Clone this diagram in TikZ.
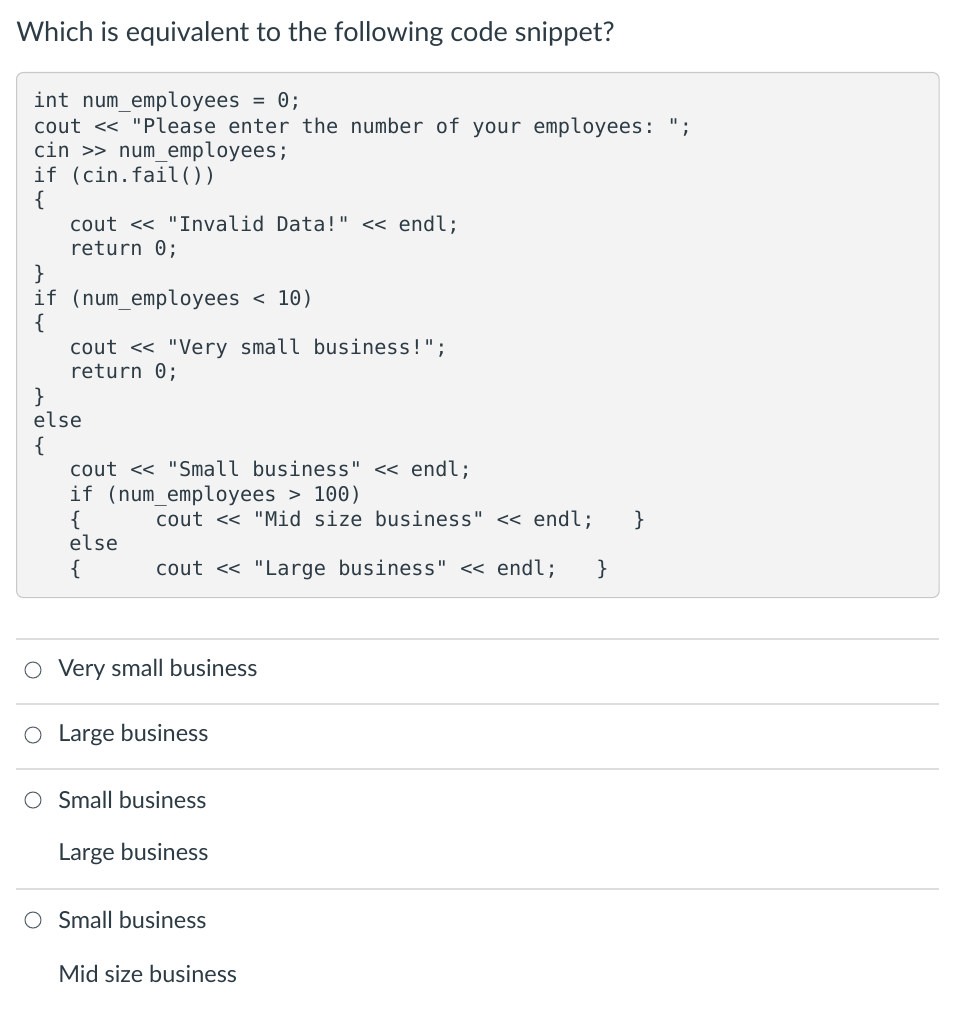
\documentclass[tikz,border=0pt]{standalone}
\usepackage{fontspec}
\setmainfont{Lato}
\setmonofont{DejaVu Sans Mono}
\definecolor{txt}{HTML}{2D3B45}
\definecolor{codebg}{HTML}{F3F3F3}
\definecolor{codeline}{HTML}{C8C8C8}
\definecolor{rule}{HTML}{DDDDDD}
\begin{document}
\begin{tikzpicture}[x=0.75pt,y=-0.75pt,
  code/.style={anchor=base west,inner sep=0pt,font=\fontsize{15.2}{17}\ttfamily,text=txt},
  opt/.style={anchor=west,inner sep=0pt,font=\fontsize{17.6}{20}\selectfont,text=txt},
  radio/.style={circle,draw=txt!80,line width=0.8pt,minimum size=12pt,inner sep=0pt}]
\useasboundingbox (0,0) rectangle (963,1024);
\node[anchor=base west,inner sep=0pt,font=\fontsize{20.3}{24}\selectfont,text=txt] (title) at (16,42) {Which is equivalent to the following code snippet?};
\node[draw=codeline,fill=codebg,rounded corners=5pt,line width=0.8pt,minimum width=692pt,minimum height=393.75pt,anchor=north west,inner sep=0pt] (box) at (16,72) {};
\foreach \y/\t [count=\i] in {
 108/{int num\_employees = 0;},
 133/{cout \textless\textless\ "Please enter the number of your employees: ";},
 157/{cin \textgreater\textgreater\ num\_employees;},
 182/{if (cin.fail())},
 206/{\{},
 280/{\}},
 305/{if (num\_employees \textless\ 10)},
 329/{\{},
 403/{\}},
 427/{else},
 452/{\{}}
 { \node[code] (l\i) at (33,\y) {\t}; }
\foreach \y/\t [count=\i] in {
 231/{cout \textless\textless\ "Invalid Data!" \textless\textless\ endl;},
 255/{return 0;},
 354/{cout \textless\textless\ "Very small business!";},
 378/{return 0;},
 476/{cout \textless\textless\ "Small business" \textless\textless\ endl;},
 501/{if (num\_employees \textgreater\ 100)},
 526/{\{},
 550/{else},
 575/{\{}}
 { \node[code] (m\i) at (69,\y) {\t}; }
\node[code] (n1) at (155,526) {cout \textless\textless\ "Mid size business" \textless\textless\ endl;};
\node[code] (n2) at (633,526) {\}};
\node[code] (n3) at (155,575) {cout \textless\textless\ "Large business" \textless\textless\ endl;};
\node[code] (n4) at (596,575) {\}};
\foreach \y [count=\i] in {639,704,769,889}
  { \draw[rule,line width=0.8pt] (16,\y) -- (939,\y); }
\foreach \y/\t [count=\i] in {670/Very small business,735/Large business,800/Small business,920/Small business}
 { \node[radio] (r\i) at (33,\y) {}; \node[opt] (o\i) at (58,\y) {\t}; }
\node[opt] (o5) at (58,854) {Large business};
\node[opt] (o6) at (58,974) {Mid size business};
\end{tikzpicture}
\end{document}
